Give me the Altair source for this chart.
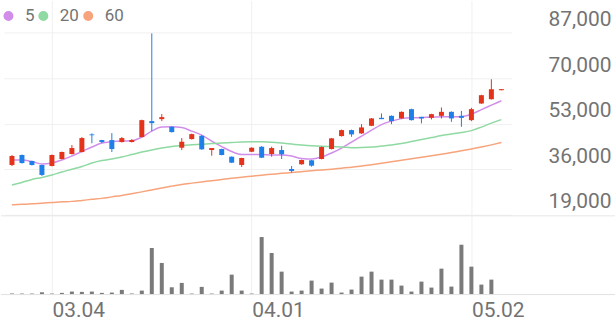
import altair as alt
import pandas as pd
import numpy as np

# ---------------- data ----------------
dates = ["02.25", "02.26", "02.27", "02.28",
         "03.04", "03.05", "03.06", "03.07",
         "03.10", "03.11", "03.12", "03.13", "03.14",
         "03.17", "03.18", "03.19", "03.20", "03.21",
         "03.24", "03.25", "03.26", "03.27", "03.28", "03.31",
         "04.01", "04.02", "04.03", "04.04",
         "04.07", "04.08", "04.09", "04.10", "04.11",
         "04.14", "04.15", "04.16", "04.17", "04.18",
         "04.21", "04.22", "04.23", "04.24", "04.25",
         "04.28", "04.29", "04.30",
         "05.02", "05.07", "05.08", "05.09"]

open_ = [37600, 41320, 39090, 37600, 37230, 39830, 41690, 42440, 49000, 46900,
         46900, 46160, 46160, 48020, 53970, 54710, 51850, 44040, 47270, 48500,
         43180, 43550, 40690, 37600, 42550, 44410, 41690, 43180, 36110, 37860,
         39350, 39830, 43550, 48390, 50620, 49390, 52220, 55200, 55940, 54970,
         58430, 55570, 55200, 55940, 57430, 55940, 54340, 60550, 62150, 65500]
close = [40950, 38340, 37600, 33880, 41320, 42440, 43920, 47640, 48700, 46160,
         43550, 47640, 46900, 54340, 53220, 55460, 49880, 46270, 49130, 43440,
         43920, 41320, 38460, 40200, 44040, 40320, 43920, 41580, 35370, 39460,
         37340, 44300, 47530, 50620, 49020, 51620, 54970, 54710, 53970, 57430,
         54340, 54970, 56570, 57430, 54970, 55200, 58430, 63640, 65870, 65900]
high = [41300, 41500, 39200, 37700, 41500, 42600, 45040, 48020, 49400, 46950,
        49500, 48020, 47270, 54500, 86700, 56570, 52000, 47640, 49300, 48700,
        43920, 43700, 40800, 40300, 44200, 44600, 44410, 44780, 37230, 39600,
        39500, 44500, 47700, 50800, 50800, 52850, 55100, 56830, 56100, 57600,
        58600, 55600, 56700, 59060, 57600, 57800, 58920, 63800, 69590, 65900]
low = [37230, 38100, 37400, 33510, 37100, 39700, 41500, 42300, 45700, 45780,
       42440, 46000, 46000, 47900, 50250, 53970, 49700, 43180, 47100, 43300,
       41060, 41200, 38300, 36860, 42400, 40200, 40690, 39830, 34740, 37700,
       36960, 39700, 43400, 48200, 48130, 49200, 52100, 54710, 52850, 54800,
       54200, 53110, 54600, 54970, 53710, 51850, 53970, 60400, 62000, 65500]
volume = [50000, 50000, 50000, 115000, 50000, 85000, 150000, 135000, 150000, 85000,
          100000, 235000, 50000, 200000, 2335000, 1585000, 365000, 585000, 50000, 385000,
          50000, 200000, 1000000, 200000, 50000, 2885000, 2085000, 1150000, 150000, 200000,
          700000, 300000, 600000, 100000, 250000, 900000, 1150000, 750000, 750000, 450000,
          150000, 650000, 350000, 1300000, 400000, 2500000, 1400000, 500000, 750000, 0]

ma5 = [39460, 39460, 38900, 37970, 38340, 39460, 40950, 42620, 44300, 45780,
       46270, 46530, 46640, 48020, 50250, 51740, 51850, 51550, 50250, 48760,
       46530, 44480, 42620, 41510, 41510, 41510, 41320, 41320, 40950, 40020,
       39830, 40580, 42060, 43920, 46160, 48390, 50620, 52670, 53970, 54900,
       55200, 55270, 55460, 55570, 55640, 55640, 56570, 58250, 59920, 61590]
ma20 = [30160, 31090, 32210, 32950, 33880, 35000, 36000, 37040, 38340, 39270,
        39830, 40580, 41510, 42440, 43180, 43920, 44480, 44850, 45110, 45340,
        45600, 45780, 45970, 46160, 46230, 46230, 46080, 45780, 45410, 45040,
        44740, 44560, 44480, 44300, 44040, 44110, 44300, 44670, 45040, 45600,
        46340, 47090, 47830, 48570, 49130, 49690, 50430, 51740, 53220, 54530]
ma60 = [22720, 22910, 23090, 23350, 23580, 23840, 24020, 24390, 24770, 25140,
        25700, 26250, 26890, 27560, 28300, 29040, 29710, 30350, 30830, 31280,
        31720, 32170, 32620, 33060, 33430, 33810, 34140, 34480, 34770, 35110,
        35440, 35740, 36040, 36410, 36780, 37230, 37710, 38230, 38790, 39350,
        39910, 40460, 41020, 41620, 42250, 42880, 43550, 44300, 45110, 45970]

ma_names = ["5", "20", "60"]
price_ticks = [19000, 36000, 53000, 70000, 87000]
date_ticks = ["03.04", "04.01", "05.02"]

# ---------------- style ----------------
RED = "#e4321b"
BLUE = "#1f7fe8"
MA_COLORS = ["#d08eea", "#8fd9a2", "#f7a47c"]
GRID = "#f0f0f0"
LABEL = "#737373"
FONT = "Roboto"

# ---------------- tables ----------------
idx = list(range(len(dates)))
df = pd.DataFrame({"i": idx, "date": dates, "open": open_, "close": close,
                   "high": high, "low": low, "vol": volume})
df["dir"] = np.where(df["close"] >= df["open"], "up", "down")

ma = pd.DataFrame({
    "i": idx * 3,
    "v": ma5 + ma20 + ma60,
    "s": [ma_names[0]] * len(idx) + [ma_names[1]] * len(idx) + [ma_names[2]] * len(idx),
})

tick_idx = [dates.index(d) for d in date_ticks]
label_expr = " : ".join(f"datum.value == {i} ? '{dates[i]}'" for i in tick_idx) + " : ''"

x_scale = alt.Scale(domain=[-0.3, 49.5], nice=False, zero=False)

x_price = alt.X("i:Q", scale=x_scale,
                axis=alt.Axis(values=tick_idx, labels=False, ticks=False, domain=False,
                              grid=True, gridColor=GRID, title=None, minExtent=0,
                              maxExtent=0, offset=0))
x_vol = alt.X("i:Q", scale=x_scale,
              axis=alt.Axis(values=tick_idx, labelExpr=label_expr, ticks=False, domain=False,
                            grid=True, gridColor=GRID, title=None, labelAlign="left",
                            labelBaseline="alphabetic", labelPadding=22, labelFlush=False,
                            labelFontSize=21, labelColor=LABEL, labelFont=FONT))

y_scale = alt.Scale(domain=[19000, 98980], nice=False, zero=False)
y_axis = alt.Axis(orient="right", values=price_ticks, format=",d", labelAlign="right",
                  labelPadding=100, labelBaseline="alphabetic", labelOffset=-7,
                  ticks=False, tickSize=0, domain=False, grid=True, gridColor=GRID,
                  title=None, labelFontSize=21, labelColor=LABEL, labelFont=FONT,
                  labelFlush=False)

W = 509
ma_scale = alt.Scale(domain=ma_names, range=MA_COLORS)

# moving-average lines; their legend uses a ring so thick that it reads as a dot
lines = alt.Chart(ma).mark_line(strokeWidth=1.5, interpolate="monotone").encode(
    x=x_price,
    y=alt.Y("v:Q", scale=y_scale, axis=y_axis),
    stroke=alt.Stroke("s:N", scale=ma_scale,
                      legend=alt.Legend(
                          title=None, orient="none", legendX=-4, legendY=7,
                          direction="horizontal", gridAlign="each",
                          symbolType="circle", symbolSize=25,
                          symbolStrokeWidth=5, symbolOpacity=1,
                          labelFontSize=17, labelColor=LABEL, labelFont=FONT,
                          labelOffset=8, columnPadding=-17, padding=0)),
)

wicks = alt.Chart(df).mark_rule(strokeWidth=1).encode(
    x=x_price,
    y=alt.Y("low:Q", scale=y_scale, axis=y_axis),
    y2="high:Q",
    color=alt.Color("dir:N", scale=alt.Scale(domain=["up", "down"], range=[RED, BLUE]),
                    legend=None),
)

bodies = alt.Chart(df).mark_bar(size=5).encode(
    x=x_price,
    y=alt.Y("open:Q", scale=y_scale, axis=y_axis),
    y2="close:Q",
    color=alt.Color("dir:N", scale=alt.Scale(domain=["up", "down"], range=[RED, BLUE]),
                    legend=None),
)

price = alt.layer(lines, wicks, bodies).properties(width=W, height=215)

vol_bars = alt.Chart(df).mark_bar(size=4, color="#7a7a7a").encode(
    x=x_vol,
    y=alt.Y("vol:Q", scale=alt.Scale(domain=[0, 3950000], nice=False), axis=None),
)

one = pd.DataFrame({"k": [0]})
top_rule = alt.Chart(one).mark_rule(color="#e6e6e6", strokeWidth=1).encode(
    x=alt.value(-3), x2=alt.value(613), y=alt.value(0))
base_rule = alt.Chart(one).mark_rule(color="#e2e2e2", strokeWidth=1).encode(
    x=alt.value(-3), x2=alt.value(613), y=alt.value(79))

vol = alt.layer(vol_bars, top_rule, base_rule).properties(width=W, height=79)

chart = alt.vconcat(price, vol, spacing=0).properties(
    padding={"left": 0, "top": 0, "right": 0, "bottom": 0}
).configure(font=FONT).configure_view(stroke=None)

chart.save("out.html", embed_options={"renderer": "svg", "actions": False})
